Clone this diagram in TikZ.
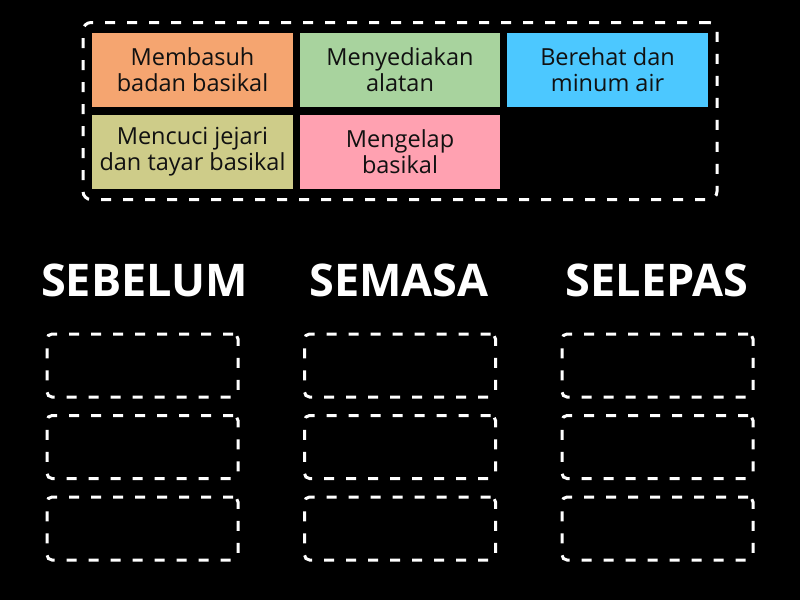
\documentclass[tikz,border=0pt]{standalone}
\usepackage{fontspec}
\setmainfont{Open Sans}
\definecolor{corange}{RGB}{245,165,112}
\definecolor{cgreen}{RGB}{168,211,158}
\definecolor{cblue}{RGB}{76,200,255}
\definecolor{colive}{RGB}{206,204,137}
\definecolor{cpink}{RGB}{255,161,177}
\definecolor{ctext}{RGB}{17,17,17}
\begin{document}
\begin{tikzpicture}[x=1pt,y=-1pt,
  tile/.style={minimum width=201pt,minimum height=74pt,inner sep=0pt,align=center,
    text=ctext,font=\fontsize{23.5}{26}\selectfont},
  slot/.style={draw=white,line width=3pt,dash pattern=on 10pt off 12pt,rounded corners=5pt,
    minimum width=191pt,minimum height=63pt,inner sep=0pt},
  head/.style={text=white,font=\fontsize{45}{50}\selectfont\bfseries,anchor=base,inner sep=0pt}]
\fill[black] (0,0) rectangle (800,600);
\useasboundingbox (0,0) rectangle (800,600);
\node[draw=white,line width=3pt,dash pattern=on 10pt off 12pt,rounded corners=8pt,
  minimum width=634pt,minimum height=177pt,inner sep=0pt] (pool) at (400,111) {};
\node[tile,fill=corange] (t1) at (192.5,70) {Membasuh\\badan basikal};
\node[tile,fill=cgreen,minimum width=200pt] (t2) at (400,70) {Menyediakan\\alatan};
\node[tile,fill=cblue] (t3) at (607.5,70) {Berehat dan\\minum air};
\node[tile,fill=colive] (t4) at (192.5,152) {Mencuci jejari\\dan tayar basikal};
\node[tile,fill=cpink,minimum width=200pt] (t5) at (400,152) {Mengelap\\basikal};
\node[head] (h1) at (144.5,296) {SEBELUM};
\node[head] (h2) at (399,296) {SEMASA};
\node[head] (h3) at (657,296) {SELEPAS};
\foreach \c/\x in {a/142.5,b/400,c/657.5}{
  \node[slot] (\c1) at (\x,365.5) {};
  \node[slot] (\c2) at (\x,447) {};
  \node[slot] (\c3) at (\x,528.5) {};
}
\end{tikzpicture}
\end{document}
